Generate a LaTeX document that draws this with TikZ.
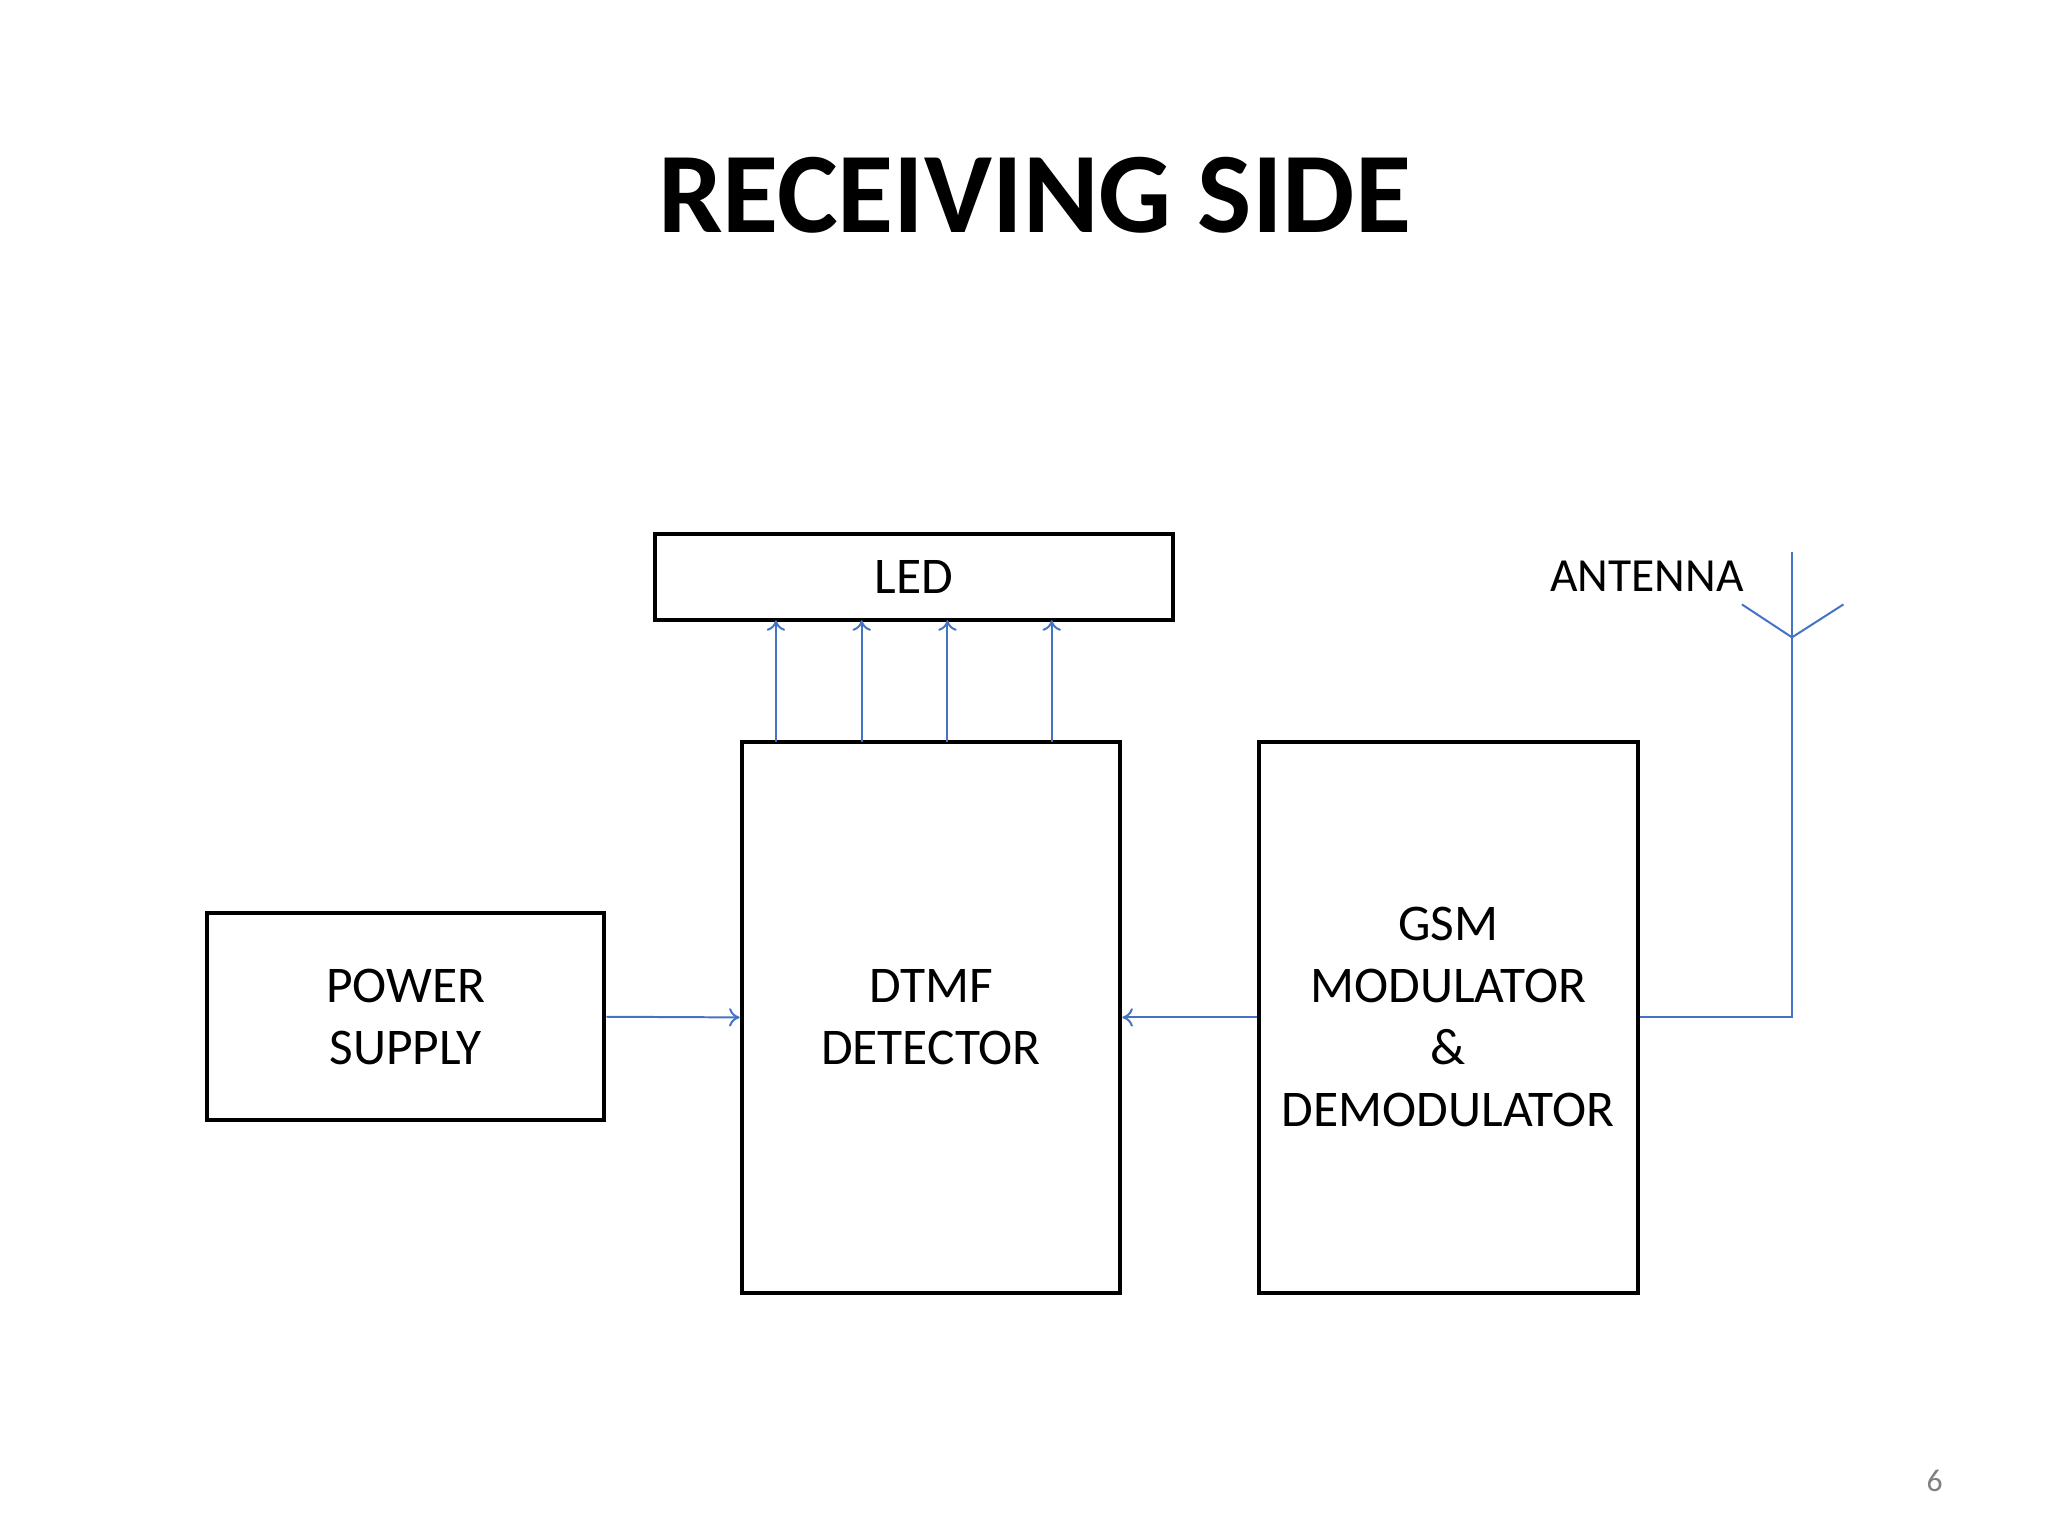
\documentclass[tikz,border=0pt]{standalone}
\usepackage{fontspec}
\setmainfont{Carlito}
\usetikzlibrary{arrows.meta}
\definecolor{ln}{RGB}{68,114,196}
\begin{document}
\begin{tikzpicture}[x=1pt,y=-1pt,
  box/.style={draw=black,line width=3pt,inner sep=0pt,align=center,font=\fontsize{39}{47}\selectfont},
  conn/.style={draw=ln,line width=1.5pt,-{To[length=8pt,width=14pt]}},
  wire/.style={draw=ln,line width=1.5pt}]
\useasboundingbox (0,0) rectangle (1552,1164);
\node[font=\bfseries\fontsize{87}{100}\selectfont] (title) at (784,148) {RECEIVING SIDE};
\node[box,minimum width=393pt,minimum height=65pt] (led) at (692.5,437.5) {LED};
\node[box,minimum width=287pt,minimum height=418pt] (dtmf) at (705.5,771) {DTMF\\DETECTOR};
\node[box,minimum width=287pt,minimum height=418pt] (gsm) at (1097.5,771) {GSM\\MODULATOR\\\&\\DEMODULATOR};
\node[box,minimum width=301pt,minimum height=157pt] (ps) at (307.5,770.5) {POWER\\SUPPLY};
\foreach \x in {588,653,718,797} \draw[conn] (\x,562) -- (\x,470);
\draw[conn] (ps.east) -- (dtmf.west);
\draw[conn] (gsm.west) -- (dtmf.east);
\coordinate (ac) at (1358,771);
\coordinate (at) at (1358,418);
\coordinate (av) at (1358,483);
\coordinate (al) at (1320,458);
\coordinate (ar) at (1397,458);
\draw[wire] (gsm.east) -- (ac) -- (at);
\draw[wire] (al) -- (av) -- (ar);
\node[font=\fontsize{36}{43}\selectfont] (ant) at (1248,437) {ANTENNA};
\node[font=\fontsize{24}{28}\selectfont,text=gray] (pg) at (1466,1122) {6};
\end{tikzpicture}
\end{document}
